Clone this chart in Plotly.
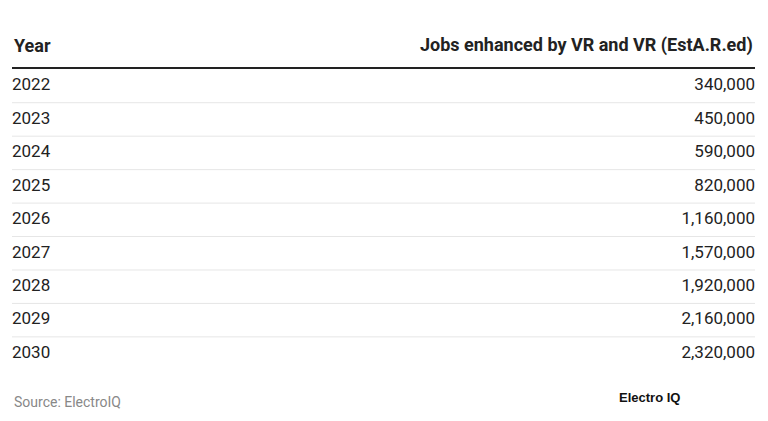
import plotly.graph_objects as go

years = ["2022", "2023", "2024", "2025", "2026", "2027", "2028", "2029", "2030"]
jobs = [340000, 450000, 590000, 820000, 1160000, 1570000, 1920000, 2160000, 2320000]
header = ["Year", "Jobs enhanced by VR and VR (EstA.R.ed)"]

W, H = 768, 421
off = 8  # page body margin
left, right = 12 - off, 755 - off
row0, step = 86 - off, 33.45

row_y = [row0 + i * step for i in range(len(years))]

fig = go.Figure()

fig.add_trace(go.Scatter(
    x=[left] * len(years), y=row_y, text=years, mode="text",
    textposition="middle right",
    textfont=dict(family="Roboto", size=17, color="#222"),
    hoverinfo="skip", showlegend=False,
))
fig.add_trace(go.Scatter(
    x=[right] * len(years), y=row_y, text=[f"{v:,}" for v in jobs], mode="text",
    textposition="middle left",
    textfont=dict(family="Roboto", size=17, color="#222"),
    hoverinfo="skip", showlegend=False,
))

# header
fig.add_annotation(x=left, y=45 - off, text="<b>" + header[0] + "</b>", xanchor="left",
                   showarrow=False, font=dict(family="Roboto", size=18, color="#222"))
fig.add_annotation(x=right, y=45 - off, text="<b>" + header[1] + "</b>", xanchor="right",
                   showarrow=False, font=dict(family="Roboto", size=18, color="#222"))
fig.add_shape(type="line", x0=left, x1=right, y0=68 - off, y1=68 - off,
              line=dict(color="#222", width=2))

for y in row_y[:-1]:
    fig.add_shape(type="line", x0=left, x1=right, y0=y + step / 2, y1=y + step / 2,
                  line=dict(color="#e6e6e6", width=1))

fig.add_annotation(x=left, y=402 - off, text="Source: ElectroIQ", xanchor="left",
                   showarrow=False, font=dict(family="Roboto", size=14, color="#888"))
fig.add_annotation(x=617 - off, y=397 - off, text="<b>Electro IQ</b>", xanchor="left",
                   showarrow=False, font=dict(family="Liberation Sans", size=13, color="#111"))

fig.update_layout(
    width=W, height=H,
    margin=dict(l=0, r=0, t=0, b=0),
    paper_bgcolor="white", plot_bgcolor="white",
    xaxis=dict(range=[0, W], visible=False, fixedrange=True),
    yaxis=dict(range=[H, 0], visible=False, fixedrange=True),
)

fig.write_html("out.html")
